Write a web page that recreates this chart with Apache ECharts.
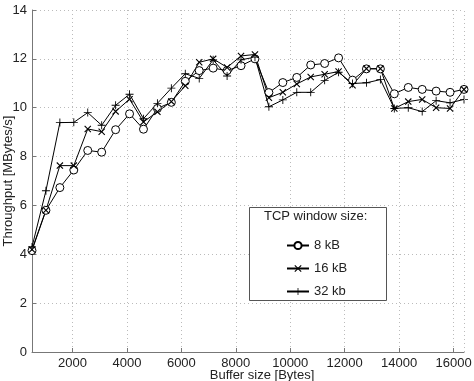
<!DOCTYPE html>
<html>
<head>
<meta charset="utf-8">
<script src="https://cdn.jsdelivr.net/npm/echarts@6/dist/echarts.min.js"></script>
<style>
html,body{margin:0;padding:0;background:#fff;}
#chart{width:474px;height:381px;}
</style>
</head>
<body>
<div id="chart"></div>
<script>
// Buffer sizes [Bytes]
var bufferSizes = [512,1024,1536,2048,2560,3072,3584,4096,4608,5120,5632,6144,6656,7168,7680,8192,
                   8704,9216,9728,10240,10752,11264,11776,12288,12800,13312,13824,14336,14848,15360,15872,16384];
// Throughput [MBytes/s] per TCP window size
var tput8kB  = [4.15,5.8,6.73,7.45,8.25,8.18,9.1,9.75,9.12,9.97,10.22,11.08,11.52,11.62,11.52,11.72,
                12.0,10.62,11.03,11.24,11.75,11.81,12.04,11.13,11.59,11.59,10.57,10.83,10.75,10.68,10.63,10.75];
var tput16kB = [4.2,5.8,7.63,7.63,9.13,9.02,9.85,10.35,9.42,9.83,10.25,10.9,11.86,12.0,11.65,12.12,
                12.18,10.41,10.63,10.97,11.26,11.37,11.48,10.92,11.6,11.6,9.97,10.25,10.34,10.0,9.97,10.75];
var tput32kB = [4.3,6.6,9.39,9.4,9.8,9.28,10.1,10.55,9.55,10.18,10.8,11.39,11.2,11.96,11.3,11.96,
                12.07,10.04,10.32,10.63,10.63,11.12,11.45,10.99,11.02,11.15,9.97,10.0,9.84,10.29,10.2,10.34];
var xTickValues = [2000,4000,6000,8000,10000,12000,14000,16000];
var seriesNames = ['8 kB','16 kB','32 kb'];
var legendTitle = 'TCP window size:';

function pairs(ys){ return bufferSizes.map(function(x,i){ return [x, ys[i]]; }); }

var FONT = 'Liberation Sans, Arial, Helvetica, sans-serif';
var xSym = 'path://M0,1.1L1.1,0L5,3.9L8.9,0L10,1.1L6.1,5L10,8.9L8.9,10L5,6.1L1.1,10L0,8.9L3.9,5Z';
var pSym = 'path://M4.45,0H5.55V4.45H10V5.55H5.55V10H4.45V5.55H0V4.45H4.45Z';

function mkSeries(name, ys, sym, size, style){
  return {
    name: name, type: 'line', data: pairs(ys),
    symbol: sym, symbolSize: size, showSymbol: true,
    lineStyle: {color:'#000', width:1},
    itemStyle: style,
    emphasis: {disabled: true},
    animation: false, z: 3
  };
}

var chart = echarts.init(document.getElementById('chart'), null, {renderer:'canvas'});
chart.setOption({
  backgroundColor: '#fff',
  animation: false,
  grid: {left: 32, right: 10, top: 10, bottom: 29, containLabel: false, outerBoundsMode: 'none'},
  xAxis: {
    type: 'value', min: 512, max: 16384,
    name: 'Buffer size [Bytes]', nameLocation: 'middle', nameGap: 17, nameMoveOverlap: false,
    nameTextStyle: {fontFamily: FONT, fontSize: 13, color: '#222', padding: [0,0,0,28]},
    axisLine: {show: true, lineStyle: {color: '#777', width: 1}},
    axisTick: {show: true, inside: true, length: 4, customValues: xTickValues, lineStyle: {color: '#777'}},
    axisLabel: {customValues: xTickValues, fontFamily: FONT, fontSize: 13, color: '#222', margin: 5,
                formatter: function(v){ return String(v); }},
    splitLine: {show: true, lineStyle: {color: '#bbb', type: [1,3], width: 1}}
  },
  yAxis: {
    type: 'value', min: 0, max: 14, interval: 2,
    name: 'Throughput [MBytes/s]', nameLocation: 'middle', nameGap: 17, nameMoveOverlap: false,
    nameTextStyle: {fontFamily: FONT, fontSize: 13, color: '#222'},
    axisLine: {show: true, lineStyle: {color: '#777', width: 1}},
    axisTick: {show: true, inside: true, length: 4, lineStyle: {color: '#777'}},
    axisLabel: {fontFamily: FONT, fontSize: 13, color: '#222', margin: 5},
    splitLine: {show: true, lineStyle: {color: '#bbb', type: [1,3], width: 1}}
  },
  legend: {
    show: true, orient: 'vertical', left: 281, top: 234,
    itemWidth: 22, itemHeight: 9, itemGap: 10,
    textStyle: {fontFamily: FONT, fontSize: 13, color: '#222'},
    data: seriesNames, selectedMode: false, z: 10
  },
  graphic: [
    {type: 'rect', left: 249, top: 207, z: 8,
     shape: {width: 137, height: 93},
     style: {fill: '#fff', stroke: '#555', lineWidth: 1}},
    {type: 'text', left: 264, top: 210, z: 10,
     style: {text: legendTitle, font: '13px ' + FONT, fill: '#222'}}
  ],
  series: [
    mkSeries(seriesNames[0], tput8kB, 'circle', 8, {color: '#fff', borderColor: '#000', borderWidth: 1}),
    mkSeries(seriesNames[1], tput16kB, xSym, 7, {color: '#000', borderWidth: 0}),
    mkSeries(seriesNames[2], tput32kB, pSym, 8, {color: '#000', borderWidth: 0}),
    {type: 'line', data: [], markLine: {silent: true, symbol: 'none', label: {show: false},
      lineStyle: {color: '#bbb', type: [1,3], width: 1}, data: [{xAxis: 16384}]}}
  ]
});
</script>
</body>
</html>
